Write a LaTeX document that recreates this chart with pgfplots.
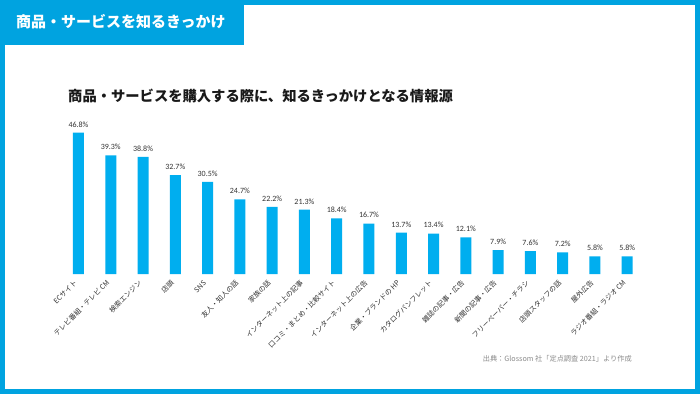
\documentclass[border=0pt]{standalone}
\usepackage{pgfplots}
\pgfplotsset{compat=1.18}
\usepackage{fontspec}
\setmainfont{Carlito}
\newfontfamily\cjk{Noto Sans CJK JP}
\definecolor{frame}{RGB}{0,163,224}
\definecolor{barc}{RGB}{0,174,239}
\begin{document}
\begin{tikzpicture}[x=1bp,y=1bp]
\useasboundingbox (0,0) rectangle (700,394);
\fill[frame] (0,0) rectangle (700,394);
\fill[white] (5,5) rectangle (695,389);
\fill[frame] (0,349) rectangle (244,394);
\node[text=white, font=\cjk\bfseries\fontsize{15bp}{18bp}\selectfont, anchor=west, inner sep=0pt] at (16,372) {商品・サービスを知るきっかけ};
\node[text=black!90, font=\cjk\bfseries\fontsize{14.3bp}{17bp}\selectfont, anchor=west, inner sep=0pt] at (68,298) {商品・サービスを購入する際に、知るきっかけとなる情報源};
\begin{axis}[
  at={(46.2bp,120bp)}, anchor=south west, scale only axis,
  width=613.3bp, height=151bp,
  xmin=-1, xmax=18, ymin=0, ymax=50,
  ybar, bar width=11bp,
  axis line style={draw=none},
  ytick=\empty,
  xtick=data, major tick length=0pt,
  /pgf/number format/assume math mode=true,
  xticklabels={ECサイト, テレビ番組・テレビ CM, 検索エンジン, 店頭, SNS, 友人・知人の話, 家族の話, インターネット上の記事, 口コミ・まとめ・比較サイト, インターネット上の広告, 企業・ブランドの HP, カタログパンフレット, 雑誌の記事・広告, 新聞の記事・広告, フリーペーパー・チラシ, 店頭スタッフの話, 屋外広告, ラジオ番組・ラジオ CM},
  xticklabel style={font=\cjk\fontsize{7bp}{8bp}\selectfont, text=black!80, inner sep=1pt, xshift=-2bp, yshift=-7bp, rotate=45, anchor=east},
  nodes near coords={\pgfmathprintnumber[fixed,precision=1,fixed zerofill,assume math mode=true]{\pgfplotspointmeta}\%},
  nodes near coords style={font=\fontsize{8bp}{9bp}\selectfont, text=black!80, anchor=south, yshift=2bp},
  clip=false,
]
\addplot[fill=barc, draw=none] coordinates {
(0,46.8) (1,39.3) (2,38.8) (3,32.7) (4,30.5) (5,24.7) (6,22.2) (7,21.3) (8,18.4)
(9,16.7) (10,13.7) (11,13.4) (12,12.1) (13,7.9) (14,7.6) (15,7.2) (16,5.8) (17,5.8)};
\end{axis}
\node[text=black!45, font=\cjk\fontsize{7.2bp}{9bp}\selectfont, anchor=east, inner sep=0pt] at (632,35) {出典：Glossom 社「定点調査 2021」より作成};
\end{tikzpicture}
\end{document}
